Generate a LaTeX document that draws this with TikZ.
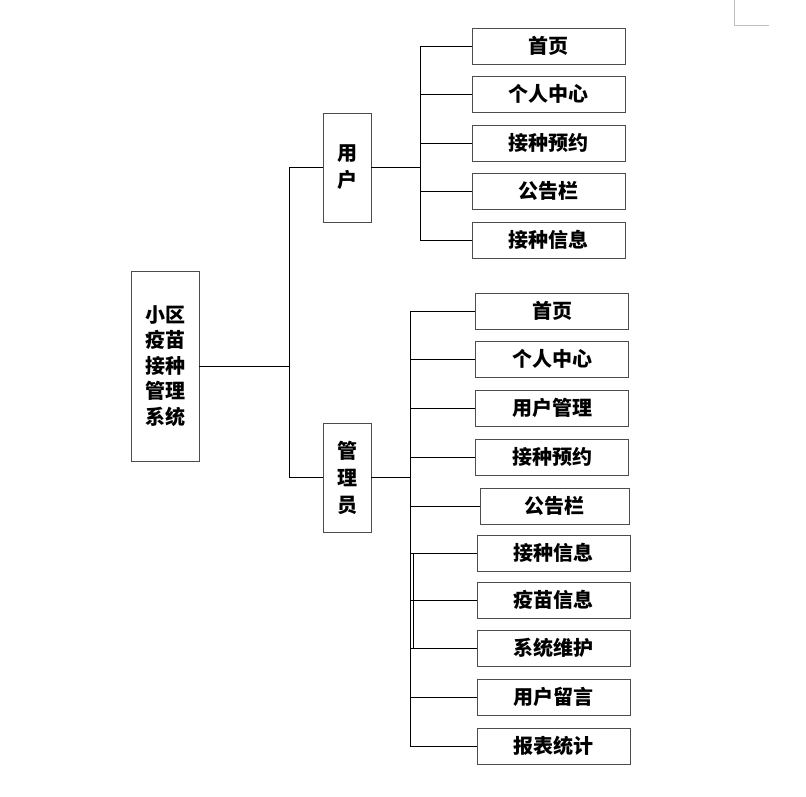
\documentclass[tikz,border=0pt]{standalone}
\usepackage{fontspec}
\newfontfamily\cjk{Noto Sans CJK SC}
\begin{document}
\begin{tikzpicture}[x=1pt,y=-1pt,
  box/.style={draw=black!70, line width=0.9pt, fill=white, inner sep=0pt, align=center,
    font=\cjk\fontsize{20}{25.5}\selectfont\bfseries},
  child/.style={box, minimum width=153pt, minimum height=36pt},
  link/.style={draw=black, line width=0.8pt}]
\useasboundingbox (0,0) rectangle (806,796);
% page corner mark
\draw[black!25, line width=0.8pt] (734,0) -- (734,25) -- (769,25);

\node[box, minimum width=68pt, minimum height=190pt] (root) at (165,366) {小区\\疫苗\\接种\\管理\\系统};
\node[box, minimum width=48pt, minimum height=109pt, font=\cjk\fontsize{20}{27}\selectfont\bfseries] (user) at (347,167.5) {用\\户};
\node[box, minimum width=48pt, minimum height=109pt, font=\cjk\fontsize{20}{27}\selectfont\bfseries] (admin) at (347,477.5) {管\\理\\员};

\node[child] (u1) at (548.5,46) {首页};
\node[child] (u2) at (548.5,94) {个人中心};
\node[child] (u3) at (548.5,143) {接种预约};
\node[child] (u4) at (548.5,191) {公告栏};
\node[child] (u5) at (548.5,240) {接种信息};

\node[child] (a1) at (552,311) {首页};
\node[child] (a2) at (552,359) {个人中心};
\node[child] (a3) at (552,408) {用户管理};
\node[child] (a4) at (552,457) {接种预约};
\node[child, minimum width=149pt] (a5) at (554.5,506) {公告栏};
\node[child] (a6) at (553.5,553) {接种信息};
\node[child] (a7) at (553.5,600) {疫苗信息};
\node[child] (a8) at (553.5,648) {系统维护};
\node[child] (a9) at (553.5,697) {用户留言};
\node[child] (a10) at (553.5,746) {报表统计};

\coordinate (tr) at (289,0);
\coordinate (ub) at (420,0);
\coordinate (ab) at (410,0);
\coordinate (ab2) at (413,0);

\draw[link] (root.east) -- (root.east -| tr);
\draw[link] (user.west -| tr) -- (admin.west -| tr);
\draw[link] (user.west -| tr) -- (user.west);
\draw[link] (admin.west -| tr) -- (admin.west);

\draw[link] (user.east) -- (user.east -| ub);
\draw[link] (u1.west -| ub) -- (u5.west -| ub);
\foreach \n in {u1,u2,u3,u4,u5} \draw[link] (\n.west -| ub) -- (\n.west);

\draw[link] (admin.east) -- (admin.east -| ab);
\draw[link] (a1.west -| ab) -- (a10.west -| ab);
\draw[link] (a6.west -| ab2) -- (a8.west -| ab2);
\foreach \n in {a1,a2,a3,a4,a5,a6,a7,a8,a9,a10} \draw[link] (\n.west -| ab) -- (\n.west);
\end{tikzpicture}
\end{document}
